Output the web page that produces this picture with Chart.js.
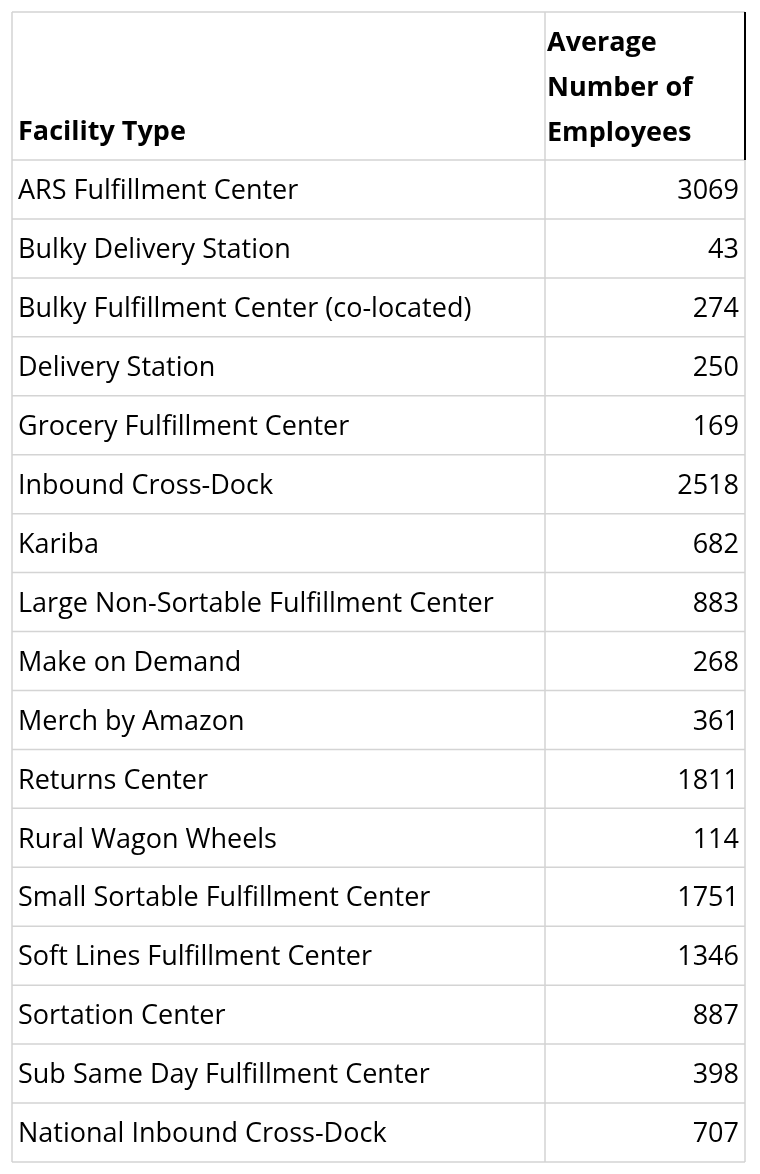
<!DOCTYPE html>
<html><head><meta charset="utf-8">
<script src="https://cdn.jsdelivr.net/npm/chart.js@4/dist/chart.umd.min.js"></script>
<style>html,body{margin:0;background:#fff}#wrap{width:760px;height:1174px}</style>
</head><body><div id="wrap"><canvas id="tabla"></canvas></div>
<script>
const headers = ['Facility Type', ['Average', 'Number of', 'Employees']];
const facilities = ['ARS Fulfillment Center', 'Bulky Delivery Station', 'Bulky Fulfillment Center (co-located)',
  'Delivery Station', 'Grocery Fulfillment Center', 'Inbound Cross-Dock', 'Kariba',
  'Large Non-Sortable Fulfillment Center', 'Make on Demand', 'Merch by Amazon', 'Returns Center',
  'Rural Wagon Wheels', 'Small Sortable Fulfillment Center', 'Soft Lines Fulfillment Center',
  'Sortation Center', 'Sub Same Day Fulfillment Center', 'National Inbound Cross-Dock'];
const employees = [3069, 43, 274, 250, 169, 2518, 682, 883, 268, 361, 1811, 114, 1751, 1346, 887, 398, 707];

const FONT = '"Open Sans", sans-serif';
const COL = 545;

// plugin que dibuja la tabla usando las escalas del chart
const tablaPlugin = {
  id: 'tabla',
  afterDraw(c) {
    const ctx = c.ctx, a = c.chartArea, y = c.scales.y;
    const half = (y.getPixelForValue(1) - y.getPixelForValue(0)) / 2;
    ctx.save();
    ctx.strokeStyle = '#d4d4d4';
    ctx.lineWidth = 1.5;
    // bordes
    ctx.beginPath();
    ctx.moveTo(a.left, 12); ctx.lineTo(a.left, a.bottom);
    ctx.moveTo(COL, 12); ctx.lineTo(COL, a.bottom);
    ctx.moveTo(a.right, a.top); ctx.lineTo(a.right, a.bottom);
    ctx.moveTo(a.left, 12); ctx.lineTo(a.right, 12);
    ctx.stroke();
    ctx.beginPath();
    for (let i = 0; i <= facilities.length; i++) {
      const p = i === facilities.length ? a.bottom : y.getPixelForValue(i) - half;
      ctx.moveTo(a.left, p); ctx.lineTo(a.right, p);
    }
    ctx.stroke();
    ctx.strokeStyle = '#000';
    ctx.lineWidth = 2;
    ctx.beginPath(); ctx.moveTo(a.right, 12); ctx.lineTo(a.right, a.top); ctx.stroke();

    ctx.fillStyle = '#000';
    ctx.textBaseline = 'middle';
    ctx.font = 'bold 27px ' + FONT;
    ctx.fillText(headers[0], 18, 132);
    headers[1].forEach((t, k) => ctx.fillText(t, 547, 43 + k * 45));
    ctx.font = '27px ' + FONT;
    facilities.forEach((f, i) => {
      const py = y.getPixelForValue(i) + 2;
      ctx.textAlign = 'left';
      ctx.fillText(f, 18, py);
      ctx.textAlign = 'right';
      ctx.fillText(String(employees[i]), a.right - 6, py);
    });
    ctx.restore();
  }
};

new Chart(document.getElementById('tabla'), {
  type: 'bar',
  data: { labels: facilities, datasets: [{ data: employees, backgroundColor: 'rgba(0,0,0,0)' }] },
  options: {
    indexAxis: 'y',
    responsive: true,
    maintainAspectRatio: false,
    animation: false,
    layout: { padding: { left: 12, right: 15, top: 160, bottom: 12 } },
    plugins: { legend: { display: false }, tooltip: { enabled: false } },
    scales: { x: { display: false, min: 0, max: 100000 }, y: { display: false } }
  },
  plugins: [tablaPlugin]
});
</script></body></html>
